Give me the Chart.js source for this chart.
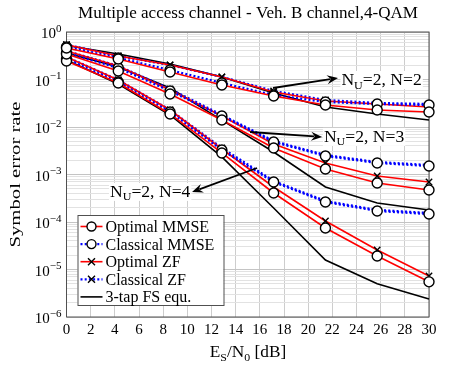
<!DOCTYPE html>
<html><head><meta charset="utf-8">
<script src="https://cdn.jsdelivr.net/npm/chart.js@4/dist/chart.umd.min.js"></script>
<style>html,body{margin:0;padding:0;background:#fff}canvas{display:block}</style>
</head><body>
<canvas id="c" width="474" height="366"></canvas>
<script>
// ---- data ----
const snrDb = [0, 4.286, 8.571, 12.857, 17.143, 21.429, 25.714, 30];
const xTickValues = [0, 2, 4, 6, 8, 10, 12, 14, 16, 18, 20, 22, 24, 26, 28, 30];
const yDecadeExps = [0, -1, -2, -3, -4, -5, -6];

// N_U=2, N=2
const optMmseN2 = [0.460, 0.270, 0.144, 0.0766, 0.0450, 0.0290, 0.0228, 0.0207];
const clsMmseN2 = [0.483, 0.284, 0.158, 0.0844, 0.0472, 0.0336, 0.0305, 0.0290];
const optZfN2   = [0.540, 0.312, 0.202, 0.113, 0.0546, 0.0353, 0.0305, 0.0264];
const clsZfN2   = [0.540, 0.312, 0.202, 0.113, 0.0573, 0.0370, 0.0320, 0.0305];
const fsN2      = [0.520, 0.344, 0.212, 0.113, 0.0520, 0.0264, 0.0188, 0.0140];
// N_U=2, N=3
const optMmseN3 = [0.344, 0.151, 0.0495, 0.0140, 0.00361, 0.00131, 0.000662, 0.000472];
const clsMmseN3 = [0.361, 0.175, 0.0573, 0.0171, 0.00483, 0.00245, 0.00175, 0.00151];
const optZfN3   = [0.398, 0.192, 0.0601, 0.0171, 0.00439, 0.00175, 0.00093, 0.000695];
const clsZfN3   = [0.398, 0.192, 0.0631, 0.0179, 0.00507, 0.00257, 0.00183, 0.00158];
const fsN3      = [0.361, 0.183, 0.0662, 0.0140, 0.00298, 0.000546, 0.000251, 0.000179];
// N_U=2, N=4
const optMmseN4 = [0.245, 0.0844, 0.0188, 0.00284, 0.000408, 0.0000748, 0.0000192, 0.0000055];
const clsMmseN4 = [0.270, 0.0886, 0.0207, 0.00328, 0.000695, 0.000264, 0.000171, 0.000147];
const optZfN4   = [0.298, 0.0976, 0.0228, 0.00344, 0.000546, 0.000105, 0.0000257, 0.0000073];
const clsZfN4   = [0.298, 0.0976, 0.0228, 0.00361, 0.00073, 0.000277, 0.000179, 0.000155];
const fsN4      = [0.257, 0.0804, 0.0179, 0.00234, 0.000197, 0.0000158, 0.0000050, 0.0000024];

const legendLabels = ['Optimal MMSE', 'Classical MMSE', 'Optimal ZF', 'Classical ZF', '3-tap FS equ.'];
const titleText = 'Multiple access channel - Veh. B channel,4-QAM';
const yTitleText = 'Symbol error rate';

// annotations: arrow tail / head / label anchor in data coordinates
const annotations = [
  {label: '=2, N=2', tail: [17.09, 0.0662], head: [22.47, 0.1075], text: [22.75, 0.0977], align: 'left'},
  {label: '=2, N=3', tail: [15.19, 0.00785], head: [21.15, 0.00616], text: [21.3, 0.0062], align: 'left'},
  {label: '=2, N=4', tail: [15.77, 0.00137], head: [10.39, 0.000428], text: [10.25, 0.00043], align: 'right'}
];

// ---- styles ----
const SERIF = '"Liberation Serif", "DejaVu Serif", serif';
const RED = '#ff0000', BLUE = '#0000ff', BLACK = '#000000';
const styles = {
  optMmse: {color: RED, width: 1.6, dash: [], marker: 'circle'},
  clsMmse: {color: BLUE, width: 2.3, dash: [2, 2.2], marker: 'circle'},
  optZf:   {color: RED, width: 1.6, dash: [], marker: 'crossRot'},
  clsZf:   {color: BLUE, width: 2.3, dash: [2, 2.2], marker: 'crossRot'},
  fs:      {color: BLACK, width: 1.6, dash: [], marker: false}
};

function mk(values, key) {
  const s = styles[key];
  return {
    data: snrDb.map((x, i) => ({x, y: values[i]})),
    borderColor: s.color, borderWidth: s.width, borderDash: s.dash,
    pointStyle: s.marker || 'circle',
    pointRadius: s.marker ? (s.marker === 'circle' ? 5 : 4.5) : 0,
    pointBorderColor: '#000', pointBackgroundColor: '#fff', pointBorderWidth: 1.4,
    fill: false, tension: 0, clip: false
  };
}

const datasets = [];
[[optMmseN2,'optMmse'],[clsMmseN2,'clsMmse'],[optMmseN3,'optMmse'],[clsMmseN3,'clsMmse'],[optMmseN4,'optMmse'],[clsMmseN4,'clsMmse'],
 [optZfN2,'optZf'],[clsZfN2,'clsZf'],[optZfN3,'optZf'],[clsZfN3,'clsZf'],[optZfN4,'optZf'],[clsZfN4,'clsZf'],
 [fsN2,'fs'],[fsN3,'fs'],[fsN4,'fs']].forEach(([v,k]) => datasets.push(mk(v,k)));

// rich text with sub/superscripts, horizontally stretched by `stretch`
function richText(ctx, parts, x, y, align, size, stretch) {
  stretch = stretch || 1;
  const fontOf = k => (k === 'n' ? size : Math.round(size * 0.7)) + 'px ' + SERIF;
  let total = 0;
  parts.forEach(([t, k]) => { ctx.font = fontOf(k); total += ctx.measureText(t).width; });
  const tw = total * stretch;
  const startX = align === 'right' ? x - tw : align === 'center' ? x - tw / 2 : x;
  ctx.save();
  ctx.translate(startX, y); ctx.scale(stretch, 1);
  ctx.textAlign = 'left'; ctx.textBaseline = 'alphabetic';
  let cx = 0;
  parts.forEach(([t, k]) => {
    ctx.font = fontOf(k);
    const dy = k === 'sub' ? size * 0.22 : k === 'sup' ? -size * 0.42 : 0;
    ctx.fillText(t, cx, dy);
    cx += ctx.measureText(t).width;
  });
  ctx.restore();
  return tw;
}
function fitStretch(ctx, text, size, target) {
  ctx.font = size + 'px ' + SERIF;
  return target / ctx.measureText(text).width;
}

function drawMarker(ctx, type, x, y) {
  ctx.save();
  ctx.lineWidth = 1.4; ctx.strokeStyle = '#000'; ctx.setLineDash([]);
  if (type === 'circle') {
    ctx.fillStyle = '#fff';
    ctx.beginPath(); ctx.arc(x, y, 4.5, 0, Math.PI * 2); ctx.fill(); ctx.stroke();
  } else if (type === 'crossRot') {
    const r = 3.5;
    ctx.beginPath(); ctx.moveTo(x - r, y - r); ctx.lineTo(x + r, y + r);
    ctx.moveTo(x + r, y - r); ctx.lineTo(x - r, y + r); ctx.stroke();
  }
  ctx.restore();
}

const decor = {
  id: 'decor',
  beforeDatasetsDraw(chart) {
    const {ctx, chartArea: a} = chart;
    ctx.save();
    ctx.strokeStyle = '#505050'; ctx.lineWidth = 1;
    ctx.strokeRect(a.left, a.top, a.right - a.left, a.bottom - a.top);
    ctx.restore();
  },
  afterDatasetsDraw(chart) {
    const {ctx, chartArea: a, scales: {x: sx, y: sy}} = chart;
    ctx.save();
    ctx.fillStyle = '#000';
    // x tick labels
    ctx.font = '15px ' + SERIF; ctx.textAlign = 'center'; ctx.textBaseline = 'alphabetic';
    xTickValues.forEach(v => ctx.fillText(String(v), sx.getPixelForValue(v), a.bottom + 17));
    // y tick labels
    yDecadeExps.forEach(e => {
      const py = sy.getPixelForValue(Math.pow(10, e));
      const expStr = e === 0 ? '0' : '\u2212' + Math.abs(e);
      richText(ctx, [['10', 'n'], [expStr, 'sup']], a.left - 5, py + 6, 'right', 15);
    });
    // title
    richText(ctx, [[titleText, 'n']], 248, 18, 'center', 16, fitStretch(ctx, titleText, 16, 340));
    // x title
    richText(ctx, [['E', 'n'], ['S', 'sub'], ['/N', 'n'], ['0', 'sub'], [' [dB]', 'n']], 248, 357, 'center', 16, 1.08);
    // y title
    ctx.save(); ctx.translate(20, (a.top + a.bottom) / 2); ctx.rotate(-Math.PI / 2);
    richText(ctx, [[yTitleText, 'n']], 0, 0, 'center', 15.5, fitStretch(ctx, yTitleText, 15.5, 146));
    ctx.restore();

    // annotations
    annotations.forEach(an => {
      const tx = sx.getPixelForValue(an.tail[0]), ty = sy.getPixelForValue(an.tail[1]);
      const hx = sx.getPixelForValue(an.head[0]), hy = sy.getPixelForValue(an.head[1]);
      const ang = Math.atan2(hy - ty, hx - tx);
      const L = 11, W = 4.5;
      ctx.strokeStyle = '#000'; ctx.lineWidth = 1.8; ctx.setLineDash([]);
      ctx.beginPath(); ctx.moveTo(tx, ty);
      ctx.lineTo(hx - Math.cos(ang) * L * 0.7, hy - Math.sin(ang) * L * 0.7); ctx.stroke();
      ctx.fillStyle = '#000';
      ctx.beginPath();
      ctx.moveTo(hx, hy);
      ctx.lineTo(hx - Math.cos(ang) * L - Math.sin(ang) * W, hy - Math.sin(ang) * L + Math.cos(ang) * W);
      ctx.lineTo(hx - Math.cos(ang) * L * 0.65, hy - Math.sin(ang) * L * 0.65);
      ctx.lineTo(hx - Math.cos(ang) * L + Math.sin(ang) * W, hy - Math.sin(ang) * L - Math.cos(ang) * W);
      ctx.closePath(); ctx.fill();
      const lx = sx.getPixelForValue(an.text[0]), ly = sy.getPixelForValue(an.text[1]);
      const parts = [['N', 'n'], ['U', 'sub'], [an.label, 'n']];
      let w = 0;
      parts.forEach(([t, k]) => { ctx.font = (k === 'n' ? 16 : 11) + 'px ' + SERIF; w += ctx.measureText(t).width; });
      w *= 1.1;
      const bx = an.align === 'right' ? lx - w : lx;
      ctx.fillStyle = '#fff'; ctx.fillRect(bx - 1, ly - 9, w + 2, 18);
      ctx.fillStyle = '#000';
      richText(ctx, parts, lx, ly + 5, an.align, 16, 1.1);
    });

    // legend
    const lx0 = a.left + 11, ly0 = a.top + 183, lw = 146, lh = 90;
    ctx.fillStyle = '#fff'; ctx.fillRect(lx0, ly0, lw, lh);
    ctx.strokeStyle = '#505050'; ctx.lineWidth = 1; ctx.strokeRect(lx0 + 0.5, ly0 + 0.5, lw, lh);
    const keys = ['optMmse', 'clsMmse', 'optZf', 'clsZf', 'fs'];
    keys.forEach((k, i) => {
      const s = styles[k];
      const yy = ly0 + 11.5 + i * 17.6;
      ctx.save();
      ctx.strokeStyle = s.color; ctx.lineWidth = s.width; ctx.setLineDash(s.dash);
      ctx.beginPath(); ctx.moveTo(lx0 + 3, yy); ctx.lineTo(lx0 + 25, yy); ctx.stroke();
      ctx.restore();
      if (s.marker) drawMarker(ctx, s.marker, lx0 + 14, yy);
      ctx.fillStyle = '#000';
      richText(ctx, [[legendLabels[i], 'n']], lx0 + 28, yy + 5.5, 'left', 16, 1.0);
    });
    ctx.restore();
  }
};

new Chart(document.getElementById('c'), {
  type: 'line',
  data: {datasets},
  options: {
    responsive: false, animation: false, devicePixelRatio: 1,
    layout: {padding: {left: 66.5, right: 45, top: 32, bottom: 49}},
    plugins: {legend: {display: false}, tooltip: {enabled: false}},
    scales: {
      x: {
        type: 'linear', min: 0, max: 30,
        afterBuildTicks: s => { s.ticks = xTickValues.map(v => ({value: v})); },
        afterFit: s => { s.height = 0; },
        ticks: {display: false},
        grid: {color: '#cdcdcd', lineWidth: 1, drawTicks: false},
        border: {display: false}
      },
      y: {
        type: 'logarithmic', min: 1e-6, max: 1,
        afterBuildTicks: s => {
          const t = [];
          yDecadeExps.forEach(e => { for (let m = 1; m <= 9; m++) { const v = m * Math.pow(10, e); if (v <= 1.0000001) t.push({value: v, major: m === 1}); } });
          s.ticks = t;
        },
        afterFit: s => { s.width = 0; },
        ticks: {display: false},
        grid: {
          color: c => (c.tick && c.tick.major) ? '#c4c4c4' : '#e2e2e2',
          lineWidth: 1, drawTicks: false
        },
        border: {display: false}
      }
    }
  },
  plugins: [decor]
});
</script>
</body></html>
